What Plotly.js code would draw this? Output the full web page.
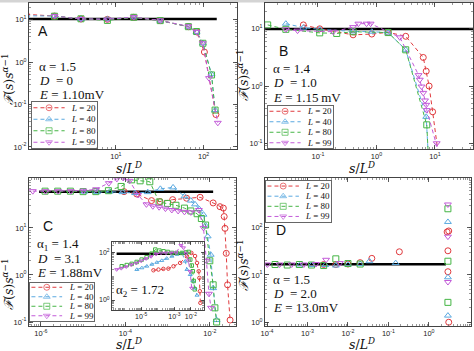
<!DOCTYPE html>
<html><head><meta charset="utf-8">
<script src="https://cdn.plot.ly/plotly-3.0.1.min.js"></script>
<style>html,body{margin:0;padding:0;background:#fff}</style>
</head><body><div id="chart" style="width:474px;height:351px"></div>
<script>
// ---------- series metadata ----------
const L_values = [20, 40, 80, 99];
const L_labels = ['<i>L</i> = 20', '<i>L</i> = 40', '<i>L</i> = 80', '<i>L</i> = 99'];
const colors = ['#e03a3e', '#5aa9e0', '#45b545', '#c25ad8'];
const symbols = ['circle-open', 'triangle-up-open', 'square-open', 'triangle-down-open'];

// ---------- Panel A (alpha=1.5, D=0, E=1.10mV) ----------
const A_L20_x = [0.95, 2, 4, 8, 16, 32, 67, 83, 102, 138];
const A_L20_y = [13.5, 12.3, 10.5, 10.3, 11.5, 9.6, 6.9, 5.2, 1.74, 0.058];
const A_L40_x = [0.95, 2, 4, 8, 16, 32, 67, 83, 98, 123, 135];
const A_L40_y = [12.5, 12.3, 10.5, 10.4, 11.5, 9.6, 6.9, 5.2, 2.8, 0.52, 0.074];
const A_L80_x = [2, 4, 8, 16, 32, 67, 83, 98, 123, 135];
const A_L80_y = [12.2, 10.6, 9.7, 11.5, 9.6, 6.9, 5.3, 2.8, 0.5, 0.074];
const A_L99_x = [2, 4, 8, 16, 32, 67, 83, 98, 115, 145];
const A_L99_y = [12.3, 10.5, 10.3, 11.6, 9.7, 7.0, 5.2, 2.8, 0.42, 0.037];
const A_ref_x = [0.97, 141];
const A_ref_y = [10.5, 10.5];

// ---------- Panel B (alpha=1.4, D=1.0, E=1.15mV) ----------
const B_L20_x = [0.0562, 0.107, 0.398, 0.832, 1.58, 3.16, 6.31, 7.08, 7.94, 9.12, 11.5];
const B_L20_y = [11.7, 10.0, 7.85, 8.1, 8.7, 7.4, 3.16, 1.82, 1.0, 0.355, 0.06];
const B_L40_x = [0.0282, 0.0562, 0.107, 0.398, 0.832, 1.58, 3.16, 7.08, 7.76];
const B_L40_y = [12.3, 10.5, 9.8, 9.0, 8.9, 8.6, 4.3, 0.29, 0.05];
const B_L80_x = [0.0138, 0.0282, 0.107, 0.209, 0.398, 1.58, 3.16, 7.24, 7.76];
const B_L80_y = [11.7, 9.8, 8.5, 8.3, 8.9, 8.6, 4.3, 0.21, 0.05];
const B_L99_x = [0.0282, 0.0447, 0.182, 0.398, 0.49, 0.676, 0.794, 2.51, 5.25, 5.5, 5.89, 6.31, 6.76, 7.08, 7.24, 10.7, 11.5];
const B_L99_y = [9.8, 9.3, 8.9, 10.7, 12.3, 12.3, 12.3, 7.1, 1.55, 1.29, 0.98, 0.76, 0.56, 0.47, 0.38, 0.1, 0.07];
const B_ref_x = [0.0125, 45];
const B_ref_y = [9.9, 9.9];

// ---------- Panel C (alpha1=1.4, D=3.1, E=1.88mV) ----------
const C_L20_x = [9.33e-5, 1.86e-4, 4.17e-4, 6.61e-4, 1.32e-3, 2.82e-3, 5.89e-3, 0.0120, 0.0174, 0.0209, 0.0219, 0.0229, 0.0245, 0.0263, 0.0302];
const C_L20_y = [58.9, 52.5, 38.0, 36.3, 39.8, 42.7, 44.7, 33.9, 28.2, 26.3, 17.4, 9.77, 2.88, 0.617, 0.110];
const C_L40_x = [1.07e-5, 2.14e-5, 4.27e-5, 8.51e-5, 1.70e-4, 3.39e-4, 6.76e-4, 1.35e-3, 2.51e-3, 3.55e-3, 4.47e-3, 5.62e-3, 7.08e-3, 7.94e-3, 8.91e-3, 0.0105, 0.0120, 0.0145];
const C_L40_y = [58.9, 57.5, 58.9, 57.5, 55.0, 57.5, 67.6, 72.4, 46.8, 38.0, 31.6, 25.1, 19.1, 11.2, 6.61, 2.69, 0.525, 0.110];
const C_L80_x = [1.26e-6, 2.51e-6, 5.01e-6, 1.0e-5, 2.0e-5, 3.98e-5, 7.94e-5, 1.41e-4, 2.24e-4, 3.80e-4, 6.31e-4, 1.0e-3, 1.58e-3, 2.51e-3, 3.55e-3, 5.01e-3, 6.31e-3, 7.94e-3, 0.0100, 0.0120, 0.0132, 0.0145];
const C_L80_y = [60.3, 60.3, 60.3, 58.9, 58.9, 61.7, 75.9, 105, 100, 95.5, 35.5, 33.1, 30.2, 26.3, 22.9, 20.0, 15.8, 11.5, 2.0, 0.617, 0.200, 0.100];
const C_L99_x = [6.46e-7, 1.29e-6, 2.57e-6, 5.13e-6, 1.02e-5, 2.04e-5, 4.07e-5, 6.31e-5, 8.91e-5, 1.26e-4, 2.0e-4, 3.16e-4, 4.47e-4, 6.31e-4, 8.91e-4, 1.26e-3, 1.78e-3, 2.51e-3, 3.55e-3, 5.50e-3, 7.08e-3, 8.32e-3, 9.55e-3, 0.0107];
const C_L99_y = [60.3, 60.3, 60.3, 60.3, 61.7, 66.1, 89.1, 110, 115, 100, 50.1, 31.6, 28.8, 27.5, 25.7, 24.0, 22.9, 21.9, 21.4, 24.0, 10.0, 2.0, 0.398, 0.200];
const C_ref_x = [9.1e-7, 0.012];
const C_ref_y = [58.9, 58.9];

// ---------- Panel C inset (alpha2=1.72) ----------
const Ci_L20_x = [5.50e-5, 1.10e-4, 2.19e-4, 4.37e-4, 8.91e-4, 2.24e-3, 5.75e-3, 0.0107, 0.0178, 0.0234, 0.0295, 0.0324, 0.0347, 0.0372];
const Ci_L20_y = [17.8, 19.1, 20.4, 20.9, 26.3, 36.3, 69.2, 95.5, 70.8, 36.3, 16.2, 8.51, 2.34, 0.759];
const Ci_L40_x = [5.50e-6, 1.10e-5, 2.19e-5, 4.37e-5, 8.71e-5, 1.74e-4, 3.47e-4, 7.24e-4, 1.45e-3, 2.88e-3, 4.57e-3, 5.75e-3, 9.12e-3, 0.0129, 0.0178, 0.0234];
const Ci_L40_y = [19.1, 22.4, 26.3, 31.6, 38.0, 45.7, 56.2, 69.2, 83.2, 95.5, 42.7, 19.1, 11.7, 6.31, 3.16, 1.58];
const Ci_L80_x = [6.76e-7, 1.35e-6, 2.69e-6, 5.37e-6, 1.07e-5, 2.14e-5, 4.27e-5, 7.08e-5, 1.26e-4, 2.24e-4, 3.98e-4, 7.24e-4, 1.41e-3, 2.88e-3, 5.01e-3, 7.24e-3, 9.12e-3, 0.0112, 0.0129, 0.0148, 0.0170];
const Ci_L80_y = [26.3, 29.5, 33.1, 39.8, 50.1, 63.1, 89.1, 132, 120, 112, 105, 95.5, 95.5, 95.5, 100, 105, 50.1, 28.2, 16.2, 6.31, 2.82];
const Ci_L99_x = [3.31e-7, 6.31e-7, 1.26e-6, 2.51e-6, 5.01e-6, 1.0e-5, 2.0e-5, 3.98e-5, 7.94e-5, 1.58e-4, 3.16e-4, 6.31e-4, 1.26e-3, 2.51e-3, 3.55e-3, 5.01e-3, 7.08e-3, 8.91e-3, 0.0112];
const Ci_L99_y = [19.1, 21.4, 25.1, 30.2, 35.5, 43.7, 55.0, 67.6, 85.1, 95.5, 95.5, 95.5, 97.7, 200, 158, 89.1, 44.7, 15.8, 3.16];
const Ci_ref_x = [3.3e-7, 6.3e-3];
const Ci_ref_y = [89, 89];

// ---------- Panel D (alpha=1.5, D=2.0, E=13.0mV) ----------
const D_L20_x = [2.51e-3, 5.01e-3, 0.0100, 0.0200, 0.0389, 0.186, 2.82, 3.09, 2.95, 2.95, 3.09];
const D_L20_y = [16.6, 16.6, 17.0, 18.2, 22.4, 30.9, 81.3, 85.1, 32.4, 11.7, 1.0];
const D_L40_x = [6.31e-4, 1.26e-3, 2.75e-3, 5.01e-3, 0.0100, 0.0200, 0.0339, 0.151, 2.95, 2.95, 2.95];
const D_L40_y = [15.8, 16.2, 16.2, 15.8, 16.6, 17.0, 19.5, 17.8, 132, 8.91, 1.38];
const D_L80_x = [1.58e-4, 3.16e-4, 6.31e-4, 1.26e-3, 2.51e-3, 5.01e-3, 0.0100, 0.0200, 2.95, 2.95, 2.95];
const D_L80_y = [16.6, 16.2, 16.6, 16.2, 15.8, 21.9, 17.4, 17.0, 251, 19.5, 2.63];
const D_L99_x = [1.02e-4, 2.04e-4, 4.07e-4, 8.13e-4, 1.62e-3, 2.88e-3, 6.31e-3, 2.95, 2.95, 2.95];
const D_L99_y = [16.6, 16.6, 16.6, 16.6, 17.0, 20.9, 17.8, 309, 64.6, 7.08];
const D_ref_x = [9.1e-5, 2.63];
const D_ref_y = [16.8, 16.8];

// ---------- tick labels ----------
const tickLab = {
  '-6': '10<sup>-6</sup>', '-5': '10<sup>-5</sup>', '-4': '10<sup>-4</sup>', '-3': '10<sup>-3</sup>',
  '-2': '10<sup>-2</sup>', '-1': '10<sup>-1</sup>', '0': '10<sup>0</sup>', '1': '10<sup>1</sup>',
  '2': '10<sup>2</sup>'
};
const A_xticks = [1, 2], A_yticks = [-2, -1, 0, 1];
const B_xticks = [-1, 0, 1], B_yticks = [-1, 0, 1];
const C_xticks = [-6, -4, -2], C_yticks = [-1, 0, 1];
const Ci_xticks = [-5, -3, -2], Ci_yticks = [0, 2];
const D_xticks = [-4, -3, -2, -1, 0], D_yticks = [0, 1, 2];

// ---------- layout helpers ----------
const W = 474, H = 351;
const dx = (a, b) => [a / W, b / W];
const dy = (top, bot) => [1 - bot / H, 1 - top / H];
const tickFont = {family: 'Liberation Sans, Arial, sans-serif', size: 7.5, color: '#222'};

function logAxis(domain, range, exps, anchor, opts) {
  const ax = {
    type: 'log', domain: domain, range: range, anchor: anchor,
    tickmode: 'array', tickvals: exps.map(e => Math.pow(10, e)), ticktext: exps.map(e => tickLab[String(e)]),
    ticks: 'inside', ticklen: 4, tickwidth: 0.8, tickcolor: '#333',
    showline: true, linecolor: '#444', linewidth: 1, mirror: 'allticks',
    showgrid: false, zeroline: false, tickfont: tickFont,
    minor: {ticks: 'inside', ticklen: 2, tickwidth: 0.6, tickcolor: '#555', dtick: 'D1', showgrid: false}
  };
  return Object.assign(ax, opts || {});
}
function legAxis(domain, anchor, isY) {
  return {domain: domain, anchor: anchor, range: isY ? [4, 0] : [0, 1], showline: true, mirror: true,
    linecolor: '#666', linewidth: 1, ticks: '', showticklabels: false, showgrid: false, zeroline: false, fixedrange: true};
}

const traces = [];
function refLine(x, y, ax) {
  traces.push({type: 'scatter', mode: 'lines', x: x, y: y, xaxis: 'x' + ax, yaxis: 'y' + ax,
    line: {color: '#000', width: 2.5}, hoverinfo: 'skip', showlegend: false});
}
function series(x, y, i, ax, mode, msize) {
  traces.push({type: 'scatter', mode: mode, x: x, y: y, xaxis: 'x' + ax, yaxis: 'y' + ax, showlegend: false,
    name: 'L = ' + L_values[i],
    line: {color: colors[i], width: 1, dash: '4px,3px'},
    marker: {symbol: symbols[i], size: msize || 6, color: colors[i], line: {color: colors[i], width: 1}}});
}

// Panel A
refLine(A_ref_x, A_ref_y, '');
[[A_L20_x, A_L20_y], [A_L40_x, A_L40_y], [A_L80_x, A_L80_y], [A_L99_x, A_L99_y]].forEach((s, i) => series(s[0], s[1], i, '', 'lines+markers'));
// Panel B
refLine(B_ref_x, B_ref_y, '2');
[[B_L20_x, B_L20_y], [B_L40_x, B_L40_y], [B_L80_x, B_L80_y], [B_L99_x, B_L99_y]].forEach((s, i) => series(s[0], s[1], i, '2', 'lines+markers'));
// Panel C
refLine(C_ref_x, C_ref_y, '3');
[[C_L20_x, C_L20_y], [C_L40_x, C_L40_y], [C_L80_x, C_L80_y], [C_L99_x, C_L99_y]].forEach((s, i) => series(s[0], s[1], i, '3', 'lines+markers'));
// Panel D
refLine(D_ref_x, D_ref_y, '4');
[[D_L20_x, D_L20_y], [D_L40_x, D_L40_y], [D_L80_x, D_L80_y], [D_L99_x, D_L99_y]].forEach((s, i) => series(s[0], s[1], i, '4', 'markers'));
// Inset of C
refLine(Ci_ref_x, Ci_ref_y, '9');
[[Ci_L20_x, Ci_L20_y], [Ci_L40_x, Ci_L40_y], [Ci_L80_x, Ci_L80_y], [Ci_L99_x, Ci_L99_y]].forEach((s, i) => series(s[0], s[1], i, '9', 'lines+markers', 3.5));

// custom compact legends (one per panel) on small helper axes
const annotations = [];
['5', '6', '7', '8'].forEach(ax => {
  L_values.forEach((L, i) => {
    traces.push({type: 'scatter', mode: 'lines+markers', x: [0.03, 0.27, 0.51], y: [i + 0.5, i + 0.5, i + 0.5],
      xaxis: 'x' + ax, yaxis: 'y' + ax, showlegend: false, hoverinfo: 'skip',
      line: {color: colors[i], width: 1, dash: '4px,3px'},
      marker: {symbol: symbols[i], size: [0, 6, 0], color: colors[i], line: {color: colors[i], width: 1}}});
    annotations.push({xref: 'x' + ax, yref: 'y' + ax, x: 0.58, y: i + 0.5, text: L_labels[i], showarrow: false,
      xanchor: 'left', yanchor: 'middle', font: {family: 'Liberation Serif, serif', size: 9, color: '#111'}});
  });
});

// panel texts
function txt(x, y, t, size, fam, anchor, angle) {
  annotations.push({xref: 'paper', yref: 'paper', x: x / W, y: 1 - y / H, text: t, showarrow: false,
    xanchor: anchor || 'left', yanchor: 'middle', textangle: angle || 0,
    font: {family: fam || 'Liberation Serif, serif', size: size || 13, color: '#111'}});
}
const sans = 'Liberation Sans, Arial, sans-serif';
const dejavu = 'DejaVu Serif, serif';
const yTitleText = '<i>ℱ</i>(<i>s</i>)<i>s</i><sup><i>α</i>−1</sup>';
const xTitleText = '<i>s</i>/<i>L</i><sup><i>D</i></sup>';
txt(43, 31, 'A', 14, sans, 'center');
txt(37, 66.5, 'α = 1.5'); txt(37, 80.5, '<i>D</i>\u00a0\u00a0= 0'); txt(37, 94, '<i>E</i> = 1.10mV');
txt(283, 51, 'B', 14, sans, 'center');
txt(271, 69, 'α = 1.4'); txt(271, 83, '<i>D</i>\u00a0\u00a0= 1.0'); txt(271, 97, '<i>E</i> = 1.15\u2009mV');
txt(48, 226, 'C', 14, sans, 'center');
txt(35, 244, 'α<sub>1</sub> = 1.4'); txt(35, 258.5, '<i>D</i>\u00a0\u00a0= 3.1'); txt(35, 272, '<i>E</i> = 1.88mV');
txt(114, 290, 'α<sub>2</sub> = 1.72');
txt(281, 230, 'D', 14, sans, 'center');
txt(271, 279.5, 'α = 1.5'); txt(271, 293.5, '<i>D</i>\u00a0\u00a0= 2.0'); txt(271, 307, '<i>E</i> = 13.0mV');
// axis titles
txt(8, 80, yTitleText, 12.5, dejavu, 'center', -90);
txt(243, 75, yTitleText, 12.5, dejavu, 'center', -90);
txt(8, 285, yTitleText, 12.5, dejavu, 'center', -90);
txt(243, 265, yTitleText, 12.5, dejavu, 'center', -90);
txt(129, 168, xTitleText, 12.5, dejavu, 'center');
txt(362, 168, xTitleText, 12.5, dejavu, 'center');
txt(129, 343.5, xTitleText, 12.5, dejavu, 'center');
txt(362, 343.5, xTitleText, 12.5, dejavu, 'center');

const layout = {
  width: W, height: H, margin: {l: 0, r: 0, t: 0, b: 0},
  paper_bgcolor: '#fff', plot_bgcolor: '#fff', showlegend: false,
  xaxis: logAxis(dx(29, 237), [0.01, 2.38], A_xticks, 'y'),
  yaxis: logAxis(dy(2.5, 149), [-2.05, 1.41], A_yticks, 'x'),
  xaxis2: logAxis(dx(265, 473), [-1.906, 1.65], B_xticks, 'y2'),
  yaxis2: logAxis(dy(2.5, 149), [-1.1, 1.46], B_yticks, 'x2'),
  xaxis3: logAxis(dx(29, 236), [-6.28, -1.38], C_xticks, 'y3'),
  yaxis3: logAxis(dy(178, 326), [-1.085, 2.06], C_yticks, 'x3'),
  xaxis4: logAxis(dx(265, 471), [-4.05, 1.04], D_xticks, 'y4'),
  yaxis4: logAxis(dy(178, 326), [-0.08, 3.05], D_yticks, 'x4'),
  xaxis5: legAxis(dx(31.5, 96.5), 'y5', false), yaxis5: legAxis(dy(102, 148), 'x5', true),
  xaxis6: legAxis(dx(267.5, 332.5), 'y6', false), yaxis6: legAxis(dy(106, 148), 'x6', true),
  xaxis7: legAxis(dx(29.5, 93.5), 'y7', false), yaxis7: legAxis(dy(282.5, 320.5), 'x7', true),
  xaxis8: legAxis(dx(265.5, 331), 'y8', false), yaxis8: legAxis(dy(181, 221.5), 'x8', true),
  xaxis9: logAxis(dx(112, 204), [-6.76, -1.21], Ci_xticks, 'y9', {tickfont: {family: tickFont.family, size: 7, color: '#222'}, ticklen: 3}),
  yaxis9: logAxis(dy(242, 310), [-0.42, 2.44], Ci_yticks, 'x9', {tickfont: {family: tickFont.family, size: 7, color: '#222'}, ticklen: 3}),
  shapes: [{type: 'rect', xref: 'paper', yref: 'paper', x0: 0, x1: 1, y0: 1 - 2.5 / H, y1: 1, fillcolor: '#d4d4d4', line: {width: 0}, layer: 'below'}],
  annotations: annotations
};

Plotly.newPlot('chart', traces, layout, {staticPlot: true, displayModeBar: false});
</script></body></html>
